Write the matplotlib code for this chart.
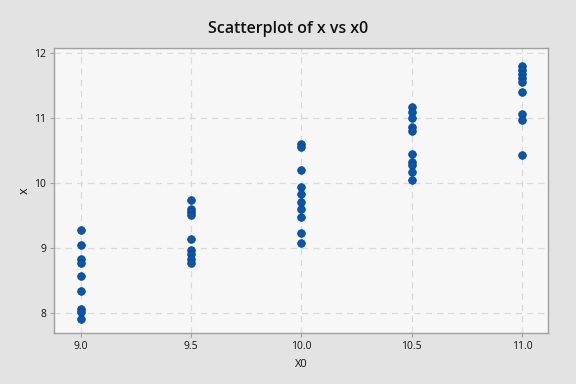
"""
Scatterplot of x vs x0 (Minitab-style)
"""

import matplotlib
matplotlib.use("Agg")
import matplotlib.pyplot as plt

plt.rcParams["font.family"] = ["Open Sans", "DejaVu Sans"]

# x0 levels and the x values read at each level
x0_levels = [9.0, 9.5, 10.0, 10.5, 11.0]
x_at_9_0 = [9.29, 9.05, 8.84, 8.77, 8.57, 8.34, 8.07, 8.02, 7.92]
x_at_9_5 = [9.75, 9.61, 9.56, 9.51, 9.15, 8.98, 8.92, 8.83, 8.78]
x_at_10_0 = [10.61, 10.56, 10.20, 9.95, 9.83, 9.71, 9.61, 9.49, 9.24, 9.09]
x_at_10_5 = [11.17, 11.10, 11.00, 10.87, 10.80, 10.45, 10.33, 10.28, 10.18, 10.06]
x_at_11_0 = [11.81, 11.75, 11.69, 11.62, 11.56, 11.40, 11.07, 10.97, 10.44]

x_groups = [x_at_9_0, x_at_9_5, x_at_10_0, x_at_10_5, x_at_11_0]

x0_vals = []
x_vals = []
for lvl, grp in zip(x0_levels, x_groups):
    x0_vals += [lvl] * len(grp)
    x_vals += grp

fig = plt.figure(figsize=(5.76, 3.84), dpi=100, facecolor="#e3e3e3")
ax = fig.add_axes([0.0943, 0.133, 0.8577, 0.741])
ax.set_facecolor("#f7f7f7")

ax.scatter(x0_vals, x_vals, s=30, color="#0b56a8", edgecolors="#08468c",
           linewidths=0.6, zorder=3)

ax.set_xlim(8.88, 11.12)
ax.set_ylim(7.70, 12.077)
ax.set_xticks(x0_levels)
ax.set_xticklabels([f"{v:.1f}" for v in x0_levels])
ax.set_yticks([8, 9, 10, 11, 12])

ax.grid(True, color="#dadada", linestyle=(0, (5, 4)), linewidth=0.9)
ax.set_axisbelow(True)
for sp in ax.spines.values():
    sp.set_color("#a0a0a0")
    sp.set_linewidth(1.0)

ax.tick_params(axis="both", labelsize=7.5, colors="#a0a0a0", labelcolor="#111111",
               length=3, width=0.8, pad=3)

ax.set_xlabel("X0", fontsize=8, color="#111111", labelpad=5)
ax.set_ylabel("x", fontsize=9, color="#111111", labelpad=2)

fig.text(0.5, 0.924, "Scatterplot of x vs x0", ha="center", va="center",
         fontsize=11.5, fontweight="semibold", color="#111111")

plt.savefig("out.png", dpi=100, facecolor=fig.get_facecolor())
